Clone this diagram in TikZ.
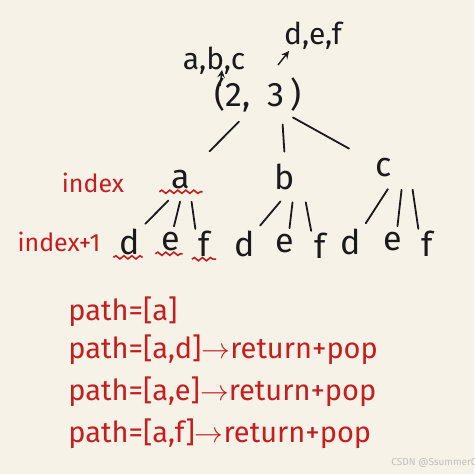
\documentclass[tikz,border=0pt]{standalone}
\usepackage{fontspec}
\setmainfont{Fira Sans}
\usetikzlibrary{decorations.pathmorphing}

\definecolor{paper}{HTML}{F6F2E8}
\definecolor{ink}{HTML}{1A1A1A}
\definecolor{redink}{HTML}{C41E1E}

\tikzset{
	hand/.style={text=ink, inner sep=1pt, font=\fontsize{17}{19}\selectfont},
	smallhand/.style={hand, font=\fontsize{15}{17}\selectfont},
	note/.style={text=redink, inner sep=1pt, font=\fontsize{14.5}{17}\selectfont},
	level/.style={text=redink, inner sep=1pt, font=\fontsize{12.5}{15}\selectfont},
	branch/.style={draw=ink, line width=0.9pt, line cap=round, shorten <=2pt, shorten >=2pt},
	pointer/.style={draw=ink, line width=0.7pt, ->, >=stealth},
	wavy/.style={draw=redink, line width=0.8pt, decorate, decoration={snake, amplitude=0.8pt, segment length=4pt}}
}

\begin{document}
\begin{tikzpicture}[x=0.5pt,y=-0.5pt]
				\fill[paper] (0,0) rectangle (474,474);
				\useasboundingbox (0,0) rectangle (474,474);
				
				\node[hand] (root) at (258,95) {(2,\,\,\,3\,)};
				\node[smallhand] (abc) at (214,61) {a,b,c};
				\node[smallhand] (def) at (313,36) {d,e,f};
				\coordinate (abcFoot) at (220,86);
				\coordinate (abcTip) at (222,70);
				\coordinate (defFoot) at (278,65);
				\coordinate (defTip) at (289,51);
				\draw[pointer] (abcFoot) -- (abcTip);
				\draw[pointer] (defFoot) -- (defTip);
				
				\node[hand] (a) at (181,180) {a};
				\node[hand] (b) at (285,177) {b};
				\node[hand] (c) at (384,168) {c};
				\draw[branch, shorten <=5pt, shorten >=12pt] ([xshift=-6pt]root.south) -- (a);
				\draw[branch, shorten <=5pt, shorten >=5pt] ([xshift=12pt]root.south) -- (b.north);
				\draw[branch, shorten <=3pt, shorten >=14pt] ([xshift=-8pt]root.south east) -- (c);
				
				\node[hand] (ad) at (130,242) {d};
				\node[hand] (ae) at (171,242) {e};
				\node[hand] (af) at (204,244) {f};
				\draw[branch] ([xshift=-5pt,yshift=-3pt]a.south) -- (ad.north east);
				\draw[branch] ([yshift=-3pt]a.south) -- ([xshift=1pt]ae.north);
				\draw[branch] ([xshift=5pt,yshift=-3pt]a.south) -- ([yshift=-2pt]af.north west);
				
				\node[hand] (bd) at (245,244) {d};
				\node[hand] (be) at (285,244) {e};
				\node[hand] (bf) at (320,246) {f};
				\draw[branch] ([xshift=-1pt,yshift=-3pt]b.south) -- (bd.north east);
				\draw[branch] ([xshift=4pt,yshift=-3pt]b.south) -- ([xshift=2pt]be.north);
				\draw[branch] ([xshift=10pt,yshift=-3pt]b.south) -- ([yshift=-2pt]bf.north west);
				
				\node[hand] (cd) at (351,242) {d};
				\node[hand] (ce) at (393,242) {e};
				\node[hand] (cf) at (427,244) {f};
				\draw[branch] ([xshift=3pt,yshift=-3pt]c.south) -- (cd.north east);
				\draw[branch] ([xshift=9pt,yshift=-3pt]c.south) -- ([xshift=2pt]ce.north);
				\draw[branch] ([xshift=14pt,yshift=-3pt]c.south) -- ([yshift=-2pt]cf.north west);
				
				\node[level] (lvl) at (93,183) {index};
				\node[level] (lvlnext) at (59,242) {index+1};
				
				\draw[wavy] ([xshift=-5pt]a.south west) -- ([xshift=5pt]a.south east);
				\draw[wavy] ([xshift=-2pt]ad.south west) -- (ad.south east);
				\draw[wavy] ([xshift=-2pt]ae.south west) -- (ae.south east);
				\draw[wavy] ([xshift=-2pt]af.south west) -- ([xshift=2pt]af.south east);
				
				\node[note, anchor=west] (p0) at (66,312) {path=[a]};
				\node[note, anchor=west] (p1) at (66,350) {path=[a,d]$\rightarrow$return+pop};
				\node[note, anchor=west] (p2) at (66,392) {path=[a,e]$\rightarrow$return+pop};
				\node[note, anchor=west] (p3) at (66,434) {path=[a,f]$\rightarrow$return+pop};
				
				\node[text=black!25, font=\fontsize{5}{6}\selectfont] (mark) at (434,463) {CSDN @SsummerC};
			\end{tikzpicture}
\end{document}
